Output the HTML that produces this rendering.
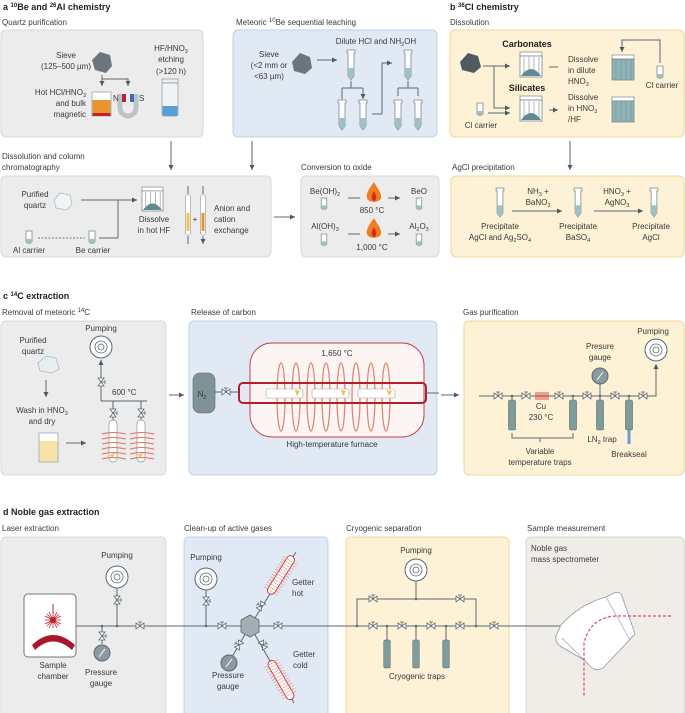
<!DOCTYPE html>
<html><head><meta charset="utf-8"><style>
html,body{margin:0;padding:0;background:#fff;}
svg{display:block;font-family:"Liberation Sans",sans-serif;}
text{font-size:8px;fill:#3a3a3a;}
.t{font-weight:bold;font-size:9px;fill:#222;}
.c{text-anchor:middle;}
.r{text-anchor:end;}
.ln{stroke:#5a6a72;stroke-width:1;fill:none;}
</style></head><body>
<svg width="685" height="713" viewBox="0 0 685 713">
<defs>
<marker id="ar" markerWidth="6" markerHeight="6" refX="5" refY="3" orient="auto" markerUnits="userSpaceOnUse"><path d="M0,0.5 L5,3 L0,5.5z" fill="#4a5a62"/></marker>
<symbol id="v" viewBox="-5 -4 10 8" overflow="visible"><path d="M-4,-3 L4,3 L4,-3 L-4,3z" fill="#fff" stroke="#5a6a72" stroke-width="0.8"/><path d="M0,0 V-4 M-2,-4 H2" stroke="#5a6a72" stroke-width="0.8"/></symbol>
<symbol id="p" viewBox="-12 -12 24 24" overflow="visible"><circle r="11" fill="#fff" stroke="#5a6a72"/><circle r="6" fill="none" stroke="#5a6a72" stroke-width="0.8"/><circle r="3" fill="none" stroke="#5a6a72" stroke-width="0.8"/></symbol>
<symbol id="tb" viewBox="-4 0 8 14" overflow="visible"><path d="M-3,0 H3 V11 Q0,14 -3,11z" fill="#fff" stroke="#7a8a90" stroke-width="0.8"/><path d="M-3,8 H3 V11 Q0,14 -3,11z" fill="#9fc0c4"/></symbol>
<symbol id="bk" viewBox="0 0 24 26" overflow="visible"><rect x="1" y="0" width="22" height="4" fill="#fff" stroke="#7a8a90" stroke-width="0.7"/><rect x="1" y="4" width="22" height="21" fill="#fff" stroke="#7a8a90" stroke-width="0.8"/><path d="M5,5 V24 M10,5 V24 M15,5 V24 M20,5 V24" stroke="#7a8a90" stroke-width="0.6"/><path d="M2,24 Q12,10 22,24z" fill="#5f8a8e"/></symbol>
<symbol id="bkl" viewBox="0 0 24 26" overflow="visible"><rect x="1" y="0" width="22" height="4" fill="#fff" stroke="#7a8a90" stroke-width="0.7"/><rect x="1" y="4" width="22" height="21" fill="#8fb3b6" stroke="#7a8a90" stroke-width="0.8"/><path d="M5,5 V24 M10,5 V24 M15,5 V24 M20,5 V24" stroke="#6d9296" stroke-width="0.6"/></symbol>
<symbol id="lt" viewBox="-4 0 8 30" overflow="visible"><path d="M-4,0 H4 V3 H3 V26 L0,30 L-3,26 V3 H-4z" fill="#fff" stroke="#7a8a90" stroke-width="0.8"/><path d="M-3,18 H3 V26 L0,30 L-3,26z" fill="#9fc0c4"/></symbol>
<symbol id="tr" viewBox="-4 0 8 30" overflow="visible"><rect x="-3.5" y="0" width="7" height="30" rx="1.5" fill="#7f9c9c" stroke="#5a6a72" stroke-width="0.6"/></symbol>
<symbol id="g" viewBox="-9 -9 18 18" overflow="visible"><circle r="8" fill="#8a9aa0" stroke="#5a6a72"/><path d="M-3,4 L3,-4" stroke="#fff" stroke-width="1"/></symbol>
</defs>

<!-- ===== Row a/b ===== -->
<text x="3" y="10" class="t">a  <tspan font-size="6" dy="-3">10</tspan><tspan dy="3">Be and </tspan><tspan font-size="6" dy="-3">26</tspan><tspan dy="3">Al chemistry</tspan></text>
<text x="450" y="10" class="t">b  <tspan font-size="6" dy="-3">36</tspan><tspan dy="3">Cl chemistry</tspan></text>
<text x="2" y="25">Quartz purification</text>
<text x="236" y="25">Meteoric <tspan font-size="6" dy="-3">10</tspan><tspan dy="3">Be sequential leaching</tspan></text>
<text x="450" y="25">Dissolution</text>

<rect x="1" y="30" width="202" height="107" rx="5" fill="#ececec" stroke="#d8d8d8"/>
<rect x="233" y="30" width="204" height="107" rx="5" fill="#e1e9f4" stroke="#c0d0e6"/>
<rect x="450" y="30" width="234" height="107" rx="5" fill="#fdf1d6" stroke="#f3d796"/>

<!-- quartz purification -->
<text x="66" y="58" class="c">Sieve</text>
<text x="66" y="69" class="c">(125–500 µm)</text>
<path d="M92,60 L100,52 L110,55 L112,66 L106,73 L95,70z" fill="#6b767c"/>
<text x="171" y="51" class="c">HF/HNO<tspan font-size="5.5" dy="2">3</tspan></text>
<text x="171" y="62" class="c">etching</text>
<text x="171" y="74" class="c">(&gt;120 h)</text>
<rect x="162" y="79" width="16" height="4" fill="#eee" stroke="#8a9a9f" stroke-width="0.7"/>
<rect x="162" y="83" width="16" height="33" rx="2" fill="#eef3f6" stroke="#8a9a9f" stroke-width="0.7"/>
<rect x="162.5" y="106" width="15" height="10" fill="#5aa0d8"/>
<path d="M102,75 V79 M102,79 H128 V86" class="ln" marker-end="url(#ar)"/>
<path d="M102,79 V86" class="ln" marker-end="url(#ar)"/>
<text x="86" y="95" class="r">Hot HCl/HNO<tspan font-size="5.5" dy="2">3</tspan></text>
<text x="86" y="106" class="r">and bulk</text>
<text x="86" y="117" class="r">magnetic</text>
<rect x="92" y="92" width="19" height="24" fill="#fff" stroke="#8a9a9f" stroke-width="0.7"/>
<rect x="92.5" y="100" width="18" height="16" fill="#e8952e"/>
<rect x="92.5" y="113" width="18" height="3" fill="#c0222c"/>
<path d="M120,94 V108 A8,8 0 0 0 136,108 V94" fill="none" stroke="#b9c3c8" stroke-width="5"/>
<rect x="122" y="94" width="4" height="8" fill="#c0222c"/>
<rect x="130" y="94" width="4" height="8" fill="#3a6fb5"/>
<text x="113" y="101" font-size="9">N</text><text x="139" y="101" font-size="9">S</text>

<!-- meteoric -->
<text x="269" y="57" class="c">Sieve</text>
<text x="269" y="68" class="c">(&lt;2 mm or</text>
<text x="269" y="79" class="c">&lt;63 µm)</text>
<path d="M292,62 L300,53 L310,57 L312,68 L305,74 L294,71z" fill="#6b767c"/>
<path d="M317,60 H337" class="ln" marker-end="url(#ar)"/>
<text x="376" y="44" class="c">Dilute HCl and NH<tspan font-size="5.5" dy="2">2</tspan><tspan dy="-2">OH</tspan></text>
<use href="#lt" x="347" y="50" width="8" height="30"/>
<use href="#lt" x="404" y="50" width="8" height="30"/>
<path d="M351,81 V88 M342,88 H363 M342,88 V96 M363,88 V96" class="ln"/>
<path d="M342,95 V99 M363,95 V99" class="ln" marker-end="url(#ar)"/>
<path d="M408,81 V88 M398,88 H418 M398,88 V96 M418,88 V96" class="ln"/>
<use href="#lt" x="338" y="100" width="8" height="30"/>
<use href="#lt" x="359" y="100" width="8" height="30"/>
<use href="#lt" x="394" y="100" width="8" height="30"/>
<use href="#lt" x="414" y="100" width="8" height="30"/>
<path d="M372,114 H382 V63 H392" class="ln" marker-end="url(#ar)"/>

<!-- dissolution b -->
<text x="527" y="47" class="c t">Carbonates</text>
<text x="527" y="91" class="c t">Silicates</text>
<path d="M460,62 L468,53 L478,56 L481,67 L474,73 L462,70z" fill="#4e5c62"/>
<path d="M483,66 H510" class="ln" marker-end="url(#ar)"/>
<path d="M494,66 V108 H510" class="ln" marker-end="url(#ar)"/>
<path d="M488,113 H510" class="ln" marker-end="url(#ar)"/>
<use href="#bk" x="519" y="52" width="24" height="26"/>
<use href="#bk" x="519" y="96" width="24" height="26"/>
<path d="M549,67 H558 M549,110 H558" class="ln" marker-end="url(#ar)"/>
<text x="568" y="62">Dissolve</text>
<text x="568" y="73">in dilute</text>
<text x="568" y="84">HNO<tspan font-size="5.5" dy="2">3</tspan></text>
<text x="568" y="100">Dissolve</text>
<text x="568" y="111">in HNO<tspan font-size="5.5" dy="2">3</tspan></text>
<text x="568" y="122">/HF</text>
<use href="#bkl" x="611" y="55" width="24" height="26"/>
<use href="#bkl" x="611" y="97" width="24" height="26"/>
<use href="#tb" x="656" y="66" width="8" height="14"/>
<path d="M660,63 V40 H622 V52" class="ln" marker-end="url(#ar)"/>
<text x="662" y="88" class="c">Cl carrier</text>
<use href="#tb" x="476" y="103" width="8" height="14"/>
<text x="481" y="128" class="c">Cl carrier</text>

<!-- down arrows -->
<path d="M171,141 V170" class="ln" marker-end="url(#ar)" stroke-width="1.2"/>
<path d="M252,141 V170" class="ln" marker-end="url(#ar)" stroke-width="1.2"/>
<path d="M570,141 V170" class="ln" marker-end="url(#ar)" stroke-width="1.2"/>

<text x="2" y="159">Dissolution and column</text>
<text x="2" y="170">chromatography</text>
<text x="301" y="170">Conversion to oxide</text>
<text x="452" y="170">AgCl precipitation</text>

<rect x="1" y="176" width="270" height="81" rx="5" fill="#ececec" stroke="#d8d8d8"/>
<rect x="301" y="176" width="138" height="81" rx="5" fill="#ececec" stroke="#d8d8d8"/>
<rect x="451" y="176" width="233" height="81" rx="5" fill="#fdf1d6" stroke="#f3d796"/>
<path d="M274,217 H295" class="ln" marker-end="url(#ar)" stroke-width="1.2"/>

<!-- dissolution & column -->
<text x="35" y="197" class="c">Purified</text>
<text x="35" y="208" class="c">quartz</text>
<path d="M54,200 L60,193 L70,195 L72,205 L66,210 L56,208z" fill="#f0f4f6" stroke="#a8b4b8" stroke-width="0.7"/>
<path d="M81,200 H137" class="ln" marker-end="url(#ar)"/>
<use href="#bk" x="141" y="187" width="23" height="25"/>
<text x="154" y="222" class="c">Dissolve</text>
<text x="154" y="233" class="c">in hot HF</text>
<path d="M188,186 V194 M203,186 V194 M188,236 V244 M203,236 V244" class="ln" marker-end="url(#ar)"/>
<rect x="185.5" y="195" width="5" height="40" rx="2" fill="#fff" stroke="#8a9a9f" stroke-width="0.6"/>
<rect x="200.5" y="195" width="5" height="40" rx="2" fill="#fff" stroke="#8a9a9f" stroke-width="0.6"/>
<rect x="186.5" y="213" width="3" height="18" fill="#f2c14e"/>
<rect x="201.5" y="213" width="3" height="18" fill="#e8952e"/>
<text x="195" y="222" class="c">+</text>
<text x="214" y="211">Anion and</text>
<text x="214" y="222">cation</text>
<text x="214" y="233">exchange</text>
<use href="#tb" x="25" y="231" width="8" height="14"/>
<use href="#tb" x="88" y="231" width="8" height="14"/>
<path d="M38,238 H85" stroke="#6a7a80" stroke-dasharray="2,1.5" fill="none"/>
<path d="M99,238 H118 V200" class="ln"/>
<text x="29" y="253" class="c">Al carrier</text>
<text x="93" y="253" class="c">Be carrier</text>

<!-- oxide -->
<text x="325" y="194" class="c">Be(OH)<tspan font-size="5.5" dy="2">2</tspan></text>
<use href="#tb" x="320" y="198" width="8" height="13"/>
<path d="M348,198 H360 M388,198 H400" class="ln" marker-end="url(#ar)"/>
<path d="M374,182 C368,190 366,194 367,198 C368,203 380,203 381,198 C382,193 377,188 374,182z" fill="#ef7d22"/>
<path d="M374,191 C371,196 371,200 374,201 C377,200 377,196 374,191z" fill="#d8262c"/>
<text x="372" y="213" class="c">850 °C</text>
<text x="419" y="194" class="c">BeO</text>
<use href="#tb" x="415" y="198" width="8" height="13"/>
<text x="325" y="229" class="c">Al(OH)<tspan font-size="5.5" dy="2">3</tspan></text>
<use href="#tb" x="320" y="234" width="8" height="13"/>
<path d="M348,234 H360 M388,234 H400" class="ln" marker-end="url(#ar)"/>
<path d="M374,218 C368,226 366,230 367,234 C368,239 380,239 381,234 C382,229 377,224 374,218z" fill="#ef7d22"/>
<path d="M374,227 C371,232 371,236 374,237 C377,236 377,232 374,227z" fill="#d8262c"/>
<text x="372" y="250" class="c">1,000 °C</text>
<text x="419" y="229" class="c">Al<tspan font-size="5.5" dy="2">2</tspan><tspan dy="-2">O</tspan><tspan font-size="5.5" dy="2">3</tspan></text>
<use href="#tb" x="415" y="234" width="8" height="13"/>

<!-- AgCl -->
<use href="#lt" x="496" y="188" width="8" height="29"/>
<use href="#lt" x="574" y="188" width="8" height="29"/>
<use href="#lt" x="650" y="188" width="8" height="29"/>
<text x="538" y="194" class="c">NH<tspan font-size="5.5" dy="2">3</tspan><tspan dy="-2"> +</tspan></text>
<text x="538" y="205" class="c">BaNO<tspan font-size="5.5" dy="2">3</tspan></text>
<path d="M512,211 H562" class="ln" marker-end="url(#ar)"/>
<text x="617" y="194" class="c">HNO<tspan font-size="5.5" dy="2">3</tspan><tspan dy="-2"> +</tspan></text>
<text x="617" y="205" class="c">AgNO<tspan font-size="5.5" dy="2">3</tspan></text>
<path d="M594,211 H643" class="ln" marker-end="url(#ar)"/>
<text x="500" y="229" class="c">Precipitate</text>
<text x="500" y="240" class="c">AgCl and Ag<tspan font-size="5.5" dy="2">2</tspan><tspan dy="-2">SO</tspan><tspan font-size="5.5" dy="2">4</tspan></text>
<text x="578" y="229" class="c">Precipitate</text>
<text x="578" y="240" class="c">BaSO<tspan font-size="5.5" dy="2">4</tspan></text>
<text x="651" y="229" class="c">Precipitate</text>
<text x="651" y="240" class="c">AgCl</text>

<!-- ===== Row c ===== -->
<text x="3" y="299" class="t">c  <tspan font-size="6" dy="-3">14</tspan><tspan dy="3">C extraction</tspan></text>
<text x="2" y="315">Removal of meteoric <tspan font-size="6" dy="-3">14</tspan><tspan dy="3">C</tspan></text>
<text x="191" y="315">Release of carbon</text>
<text x="463" y="315">Gas purification</text>
<rect x="1" y="321" width="165" height="154" rx="5" fill="#ececec" stroke="#d8d8d8"/>
<rect x="189" y="321" width="248" height="154" rx="5" fill="#e1e9f4" stroke="#c0d0e6"/>
<rect x="464" y="321" width="220" height="154" rx="5" fill="#fdf1d6" stroke="#f3d796"/>
<path d="M169,395 H184" class="ln" marker-end="url(#ar)" stroke-width="1.2"/>
<path d="M441,395 H459" class="ln" marker-end="url(#ar)" stroke-width="1.2"/>

<!-- removal -->
<text x="33" y="343" class="c">Purified</text>
<text x="33" y="354" class="c">quartz</text>
<path d="M38,363 L46,356 L56,358 L59,369 L52,373 L40,371z" fill="#e6eef2" stroke="#a8b4b8" stroke-width="0.7"/>
<path d="M46,380 V397" class="ln" marker-end="url(#ar)"/>
<text x="42" y="413" class="c">Wash in HNO<tspan font-size="5.5" dy="2">3</tspan></text>
<text x="42" y="424" class="c">and dry</text>
<rect x="39" y="433" width="19" height="29" fill="#fff" stroke="#8a9a9f" stroke-width="0.7"/>
<rect x="39.5" y="441" width="18" height="20.5" fill="#f7e3a8"/>
<path d="M66,443 H86" class="ln" marker-end="url(#ar)"/>
<text x="101" y="331" class="c">Pumping</text>
<use href="#p" x="89" y="335" width="24" height="24"/>
<path d="M101,401 V360" class="ln" marker-end="url(#ar)"/>
<use href="#v" x="96" y="378" width="10" height="8" transform="rotate(90 101 382)"/>
<path d="M101,401 H147 M113,401 V420 M141,401 V420" class="ln"/>
<text x="112" y="395">600 °C</text>
<use href="#v" x="108" y="409" width="10" height="8" transform="rotate(90 113 413)"/>
<use href="#v" x="136" y="409" width="10" height="8" transform="rotate(90 141 413)"/>
<rect x="109" y="420" width="8" height="42" rx="4" fill="#fff" stroke="#8a9a9f" stroke-width="0.7"/>
<rect x="137" y="420" width="8" height="42" rx="4" fill="#fff" stroke="#8a9a9f" stroke-width="0.7"/>
<path d="M110,455 L116,452 L112,458z M138,455 L144,452 L140,458z" fill="#f2c14e"/>
<g fill="none" stroke="#e07060" stroke-width="1">
<path d="M102,434 Q113,431 126,434 M102,439 Q113,436 126,439 M102,444 Q113,441 126,444 M102,449 Q113,446 126,449 M102,454 Q113,451 126,454 M102,459 Q113,456 126,459"/>
<path d="M130,434 Q141,431 154,434 M130,439 Q141,436 154,439 M130,444 Q141,441 154,444 M130,449 Q141,446 154,449 M130,454 Q141,451 154,454 M130,459 Q141,456 154,459"/>
</g>

<!-- release -->
<rect x="193" y="373" width="22" height="40" rx="7" fill="#7f9397" stroke="#5a6a72" stroke-width="0.6"/>
<text x="202" y="397" class="c">N<tspan font-size="5.5" dy="2">2</tspan></text>
<path d="M215,392 H240" class="ln"/>
<use href="#v" x="221" y="388" width="10" height="8"/>
<rect x="250" y="343" width="174" height="94" rx="22" fill="#fdf4f4" stroke="#c8404a" stroke-width="1"/>
<text x="337" y="356" class="c">1,650 °C</text>
<g fill="none" stroke="#e08878" stroke-width="1.3">
<ellipse cx="281" cy="397" rx="4" ry="34"/>
<ellipse cx="296" cy="397" rx="4" ry="34"/>
<ellipse cx="311" cy="397" rx="4" ry="34"/>
<ellipse cx="326" cy="397" rx="4" ry="34"/>
<ellipse cx="341" cy="397" rx="4" ry="34"/>
<ellipse cx="356" cy="397" rx="4" ry="34"/>
<ellipse cx="371" cy="397" rx="4" ry="34"/>
<ellipse cx="386" cy="397" rx="4" ry="34"/>
</g>
<rect x="239" y="383" width="187" height="20" rx="4" fill="none" stroke="#b0202a" stroke-width="2"/>
<rect x="266" y="389" width="37" height="9" rx="2" fill="#fff" stroke="#9aa" stroke-width="0.6"/>
<rect x="312" y="389" width="37" height="9" rx="2" fill="#fff" stroke="#9aa" stroke-width="0.6"/>
<rect x="358" y="389" width="37" height="9" rx="2" fill="#fff" stroke="#9aa" stroke-width="0.6"/>
<path d="M295,390 l5,1 -3,5z M341,390 l5,1 -3,5z M387,390 l5,1 -3,5z" fill="#f2c14e"/>
<path d="M426,393 H439" class="ln"/>
<text x="332" y="447" class="c">High-temperature furnace</text>

<!-- gas purification -->
<text x="653" y="334" class="c">Pumping</text>
<use href="#p" x="644" y="338" width="24" height="24"/>
<path d="M479,396 H656 V364" class="ln" marker-end="url(#ar)"/>
<use href="#v" x="493" y="392" width="10" height="8"/>
<use href="#v" x="521" y="392" width="10" height="8"/>
<use href="#v" x="554" y="392" width="10" height="8"/>
<use href="#v" x="582" y="392" width="10" height="8"/>
<use href="#v" x="610" y="392" width="10" height="8"/>
<use href="#v" x="638" y="392" width="10" height="8"/>
<path d="M536,392 V400 M538,392 V400 M540,392 V400 M542,392 V400 M544,392 V400 M546,392 V400 M548,392 V400" stroke="#d8262c" stroke-width="0.8"/>
<g fill="#5a6a72"><circle cx="512" cy="396" r="1.3"/><circle cx="573" cy="396" r="1.3"/><circle cx="600" cy="396" r="1.3"/><circle cx="629" cy="396" r="1.3"/></g>
<path d="M512,396 V400 M573,396 V400 M600,384 V400 M629,396 V400" class="ln"/>
<use href="#tr" x="508" y="400" width="8" height="30"/>
<use href="#tr" x="569" y="400" width="8" height="30"/>
<use href="#tr" x="596" y="400" width="8" height="30"/>
<use href="#tr" x="625" y="400" width="8" height="30"/>
<rect x="627.5" y="430" width="3" height="14" fill="#6d9ad0"/>
<use href="#g" x="591" y="367" width="18" height="18"/>
<text x="600" y="349" class="c">Presure</text>
<text x="600" y="360" class="c">gauge</text>
<text x="541" y="409" class="c">Cu</text>
<text x="541" y="420" class="c">230 °C</text>
<path d="M512,433 V438 H573 V433 M540,438 V442" class="ln" stroke-width="0.7"/>
<text x="602" y="442" class="c">LN<tspan font-size="5.5" dy="2">2</tspan><tspan dy="-2"> trap</tspan></text>
<text x="540" y="454" class="c">Variable</text>
<text x="540" y="465" class="c">temperature traps</text>
<text x="629" y="457" class="c">Breakseal</text>

<!-- ===== Row d ===== -->
<text x="3" y="515" class="t">d  Noble gas extraction</text>
<text x="2" y="531">Laser extraction</text>
<text x="184" y="531">Clean-up of active gases</text>
<text x="346" y="531">Cryogenic separation</text>
<text x="527" y="531">Sample measurement</text>
<rect x="1" y="537" width="165" height="180" rx="5" fill="#ececec" stroke="#d8d8d8"/>
<rect x="184" y="537" width="144" height="180" rx="5" fill="#e1e9f4" stroke="#c0d0e6"/>
<rect x="346" y="537" width="163" height="180" rx="5" fill="#fdf1d6" stroke="#f3d796"/>
<rect x="526" y="537" width="158" height="180" rx="5" fill="#f0ede8" stroke="#d9d4cc"/>

<path d="M76,626 H562" class="ln"/>
<!-- laser -->
<rect x="24" y="594" width="52" height="63" rx="4" fill="#fff" stroke="#6a7a80"/>
<path d="M53,604 V614" stroke="#c0222c" stroke-width="1"/>
<g stroke="#c0222c" stroke-width="0.8"><path d="M45,620 H61 M53,612 V628 M47,614 L59,626 M59,614 L47,626 M49,612 L57,628 M57,612 L49,628 M45,616 L61,624 M45,624 L61,616"/></g>
<circle cx="53" cy="620" r="3" fill="#c0222c"/>
<path d="M32,645 Q53,625 75,645 L72,650 Q53,633 35,650z" fill="#a8182a"/>
<text x="53" y="668" class="c">Sample</text>
<text x="53" y="679" class="c">chamber</text>
<text x="117" y="558" class="c">Pumping</text>
<use href="#p" x="105" y="565" width="24" height="24"/>
<path d="M117,588 V626 M102,626 V644" class="ln"/>
<use href="#v" x="112" y="596" width="10" height="8" transform="rotate(90 117 600)"/>
<use href="#v" x="97" y="632" width="10" height="8" transform="rotate(90 102 636)"/>
<circle cx="117" cy="626" r="1.3" fill="#5a6a72"/><circle cx="102" cy="626" r="1.3" fill="#5a6a72"/>
<use href="#g" x="93" y="644" width="18" height="18"/>
<text x="101" y="675" class="c">Pressure</text>
<text x="101" y="686" class="c">gauge</text>
<use href="#v" x="135" y="622" width="10" height="8"/>

<!-- clean-up -->
<text x="206" y="560" class="c">Pumping</text>
<use href="#p" x="194" y="567" width="24" height="24"/>
<path d="M206,590 V626" class="ln"/>
<use href="#v" x="201" y="597" width="10" height="8" transform="rotate(90 206 601)"/>
<circle cx="206" cy="626" r="1.3" fill="#5a6a72"/>
<use href="#v" x="217" y="622" width="10" height="8"/>
<use href="#v" x="273" y="622" width="10" height="8"/>
<path d="M250,626 L296,552 M250,626 L294,703 M250,626 L229,662" class="ln"/>
<polygon points="250,615 259,620 259,632 250,637 241,632 241,620" fill="#a5aeb2" stroke="#5a6a72" stroke-width="0.8"/>
<use href="#v" x="256" y="602" width="10" height="8" transform="rotate(-58 261 606)"/>
<use href="#v" x="258" y="641" width="10" height="8" transform="rotate(60 263 645)"/>
<use href="#v" x="234" y="641" width="10" height="8" transform="rotate(-60 239 645)"/>
<g transform="rotate(-58 281 575)">
<rect x="259" y="571" width="44" height="8" rx="4" fill="#fff" stroke="#c0303a" stroke-width="0.9"/>
<path d="M262,567 V583 M265,567 V583 M268,567 V583 M271,567 V583 M274,567 V583 M277,567 V583 M280,567 V583 M283,567 V583 M286,567 V583 M289,567 V583 M292,567 V583 M295,567 V583 M298,567 V583" stroke="#e8907e" stroke-width="0.6"/>
</g>
<g transform="rotate(60 281 680)">
<rect x="259" y="676" width="44" height="8" rx="4" fill="#fff" stroke="#c0303a" stroke-width="0.9"/>
<path d="M262,672 V688 M265,672 V688 M268,672 V688 M271,672 V688 M274,672 V688 M277,672 V688 M280,672 V688 M283,672 V688 M286,672 V688 M289,672 V688 M292,672 V688 M295,672 V688 M298,672 V688" stroke="#e8907e" stroke-width="0.6"/>
</g>
<use href="#g" x="220" y="654" width="18" height="18"/>
<text x="228" y="678" class="c">Pressure</text>
<text x="228" y="689" class="c">gauge</text>
<text x="292" y="585">Getter</text>
<text x="292" y="596">hot</text>
<text x="293" y="657">Getter</text>
<text x="293" y="668">cold</text>

<!-- cryogenic -->
<text x="416" y="553" class="c">Pumping</text>
<use href="#p" x="404" y="558" width="24" height="24"/>
<path d="M416,581 V599 M357,626 V599 H476 V626 M387,626 V640 M416,626 V640 M446,626 V640" class="ln"/>
<use href="#v" x="368" y="595" width="10" height="8"/>
<use href="#v" x="455" y="595" width="10" height="8"/>
<use href="#v" x="368" y="622" width="10" height="8"/>
<use href="#v" x="397" y="622" width="10" height="8"/>
<use href="#v" x="426" y="622" width="10" height="8"/>
<use href="#v" x="455" y="622" width="10" height="8"/>
<use href="#v" x="489" y="622" width="10" height="8"/>
<g fill="#5a6a72"><circle cx="357" cy="626" r="1.3"/><circle cx="387" cy="626" r="1.3"/><circle cx="416" cy="626" r="1.3"/><circle cx="446" cy="626" r="1.3"/><circle cx="476" cy="626" r="1.3"/><circle cx="416" cy="599" r="1.3"/></g>
<use href="#tr" x="383" y="640" width="8" height="28"/>
<use href="#tr" x="412" y="640" width="8" height="28"/>
<use href="#tr" x="442" y="640" width="8" height="28"/>
<text x="417" y="679" class="c">Cryogenic traps</text>

<!-- spectrometer -->
<text x="531" y="551">Noble gas</text>
<text x="531" y="562">mass spectrometer</text>
<path d="M561,625 Q580,604 606,597 L612,594 Q619,590 622,596 L635,634 Q620,650 604,667 Q598,672 592,668 L584,660 L560,646 Q555,642 556,636z" fill="#fff" stroke="#8a9aa0" stroke-width="0.8"/>
<path d="M606,597 L630,640 M584,660 L562,638" stroke="#8a9aa0" stroke-width="0.6" fill="none"/>
<path d="M671,616 H615 Q590,618 584,643 V697" fill="none" stroke="#d8262c" stroke-width="1" stroke-dasharray="3,2"/>
</svg>
</body></html>
